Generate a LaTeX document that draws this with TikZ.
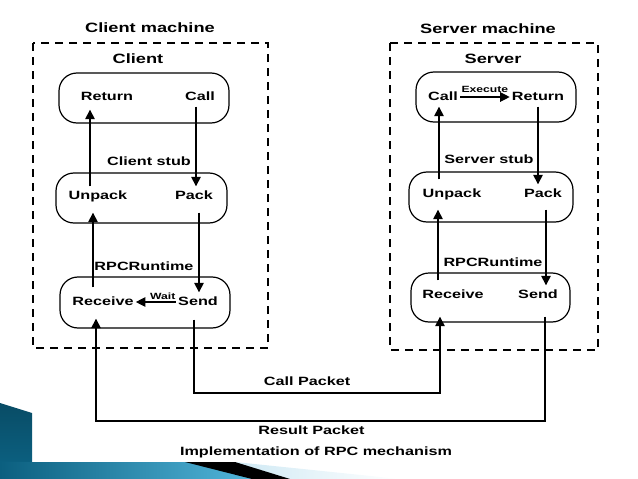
\documentclass[tikz,border=0pt]{standalone}
\usepackage{fontspec}
\usepackage{tikz}
\usetikzlibrary{arrows.meta}
\newfontfamily\rpcfont[FakeStretch=1.35]{Liberation Sans}
\definecolor{slideteal}{HTML}{0B5F7F}
\definecolor{slideblue}{HTML}{52B6DB}
\definecolor{slidepale}{HTML}{CFE9F4}
\tikzset{
	txt/.style={font=\rpcfont\bfseries\fontsize{12}{14}\selectfont, inner xsep=2pt, inner ysep=4pt, text height=8.6pt, text depth=2.4pt},
	ttl/.style={font=\rpcfont\bfseries\fontsize{13.5}{15}\selectfont, inner sep=1pt},
	tiny/.style={font=\rpcfont\bfseries\fontsize{9}{10}\selectfont, inner sep=0.5pt},
	machinebox/.style={line width=1.3pt, dash pattern=on 8pt off 6pt},
	layer/.style={line width=1.2pt, rounded corners=18pt},
	flow/.style={line width=1.5pt, -{Triangle[length=9.5pt,width=9.5pt]}},
	wire/.style={line width=1.3pt}
}

\begin{document}
\begin{tikzpicture}[x=1pt, y=-1pt]
			%%%%% START %%%%%
			\useasboundingbox (0,0) rectangle (638,479);
			
			% slide decoration
			\shade[top color=slideteal!80!black, bottom color=slideteal] (0,403) -- (32,413) -- (32,462) -- (0,462) -- cycle;
			\shade[left color=slideteal, right color=slideblue] (0,462) -- (190,462) -- (255,479) -- (0,479) -- cycle;
			\shade[left color=slidepale, right color=white] (235,462) -- (400,479) -- (285,479) -- cycle;
			\fill[black] (185,462) -- (235,462) -- (290,479) -- (252,479) -- cycle;
			
			% client machine
			\node[ttl] (cmachine) at (150,28) {Client machine};
			\draw[machinebox] (33,43) rectangle (268,348);
			
			\node[ttl] (client) at (138,59) {Client};
			\draw[layer] (59,73) rectangle (229,123);
			\node[txt] (creturn) at (107,97) {Return};
			\node[txt] (ccall) at (200,97) {Call};
			
			\node[txt] (cstub) at (149,162) {Client stub};
			\draw[layer] (56,173) rectangle (227,223);
			\node[txt] (cunpack) at (98,196) {Unpack};
			\node[txt] (cpack) at (194,196) {Pack};
			
			\node[txt] (cruntime) at (144,267) {RPCRuntime};
			\draw[layer] (60,277) rectangle (230,328);
			\node[txt] (creceive) at (103,302) {Receive};
			\node[txt] (csend) at (198,302) {Send};
			
			\draw[flow, shorten >=3pt] (cunpack.north -| 90,0) -- (creturn.south -| 90,0);
			\draw[flow] (ccall.south -| 196,0) -- (cpack.north -| 196,0);
			\draw[flow, shorten <=5pt, shorten >=7pt] (creceive.north -| 93,0) -- (cunpack.south -| 93,0);
			\draw[flow, shorten <=7pt] (cpack.south -| 199,0) -- (csend.north -| 199,0);
			\draw[flow, line width=1.2pt] (csend.west) -- node[tiny, above=1pt, pos=0.33] (cwait) {Wait} (creceive.east);
			
			% server machine
			\node[ttl] (smachine) at (488,29) {Server machine};
			\draw[machinebox] (390,43) rectangle (598,350);
			
			\node[ttl] (server) at (493,59) {Server};
			\draw[layer] (416,72) rectangle (576,122);
			\node[txt] (scall) at (443,97) {Call};
			\node[txt] (sreturn) at (538,97) {Return};
			
			\node[txt] (sstub) at (489,160) {Server stub};
			\draw[layer] (409,172) rectangle (573,222);
			\node[txt] (sunpack) at (452,194) {Unpack};
			\node[txt] (spack) at (543,194) {Pack};
			
			\node[txt] (sruntime) at (493,263) {RPCRuntime};
			\draw[layer] (411,273) rectangle (570,322);
			\node[txt] (sreceive) at (453,295) {Receive};
			\node[txt] (ssend) at (538,295) {Send};
			
			\draw[flow, shorten <=5pt] (sunpack.north -| 439,0) -- (scall.south -| 439,0);
			\draw[flow] (sreturn.south -| 538,0) -- (spack.north -| 538,0);
			\draw[flow, shorten <=5pt, shorten >=6pt] (sreceive.north -| 438,0) -- (sunpack.south -| 438,0);
			\draw[flow, shorten <=6pt] (spack.south -| 546,0) -- (ssend.north -| 546,0);
			\draw[flow, line width=1.2pt] (scall.east) -- node[tiny, above=3pt] (sexec) {Execute} (sreturn.west);
			
			% packets between the machines
			\draw[flow, shorten <=8pt, shorten >=12pt] (csend.south -| 194,0) -- (194,393) -- node[txt, above, pos=0.46] (callpkt) {Call Packet} (440,393) -- (sreceive.south -| 440,0);
			\draw[flow, shorten <=12pt, shorten >=7pt] (ssend.south -| 545,0) -- (545,421) -- node[txt, below, pos=0.52] (resultpkt) {Result Packet} (96,421) -- (creceive.south -| 96,0);
			
			\node[txt] (caption) at (316,452) {Implementation of RPC mechanism};
			
			%%%%% END %%%%%
\end{tikzpicture}
\end{document}
